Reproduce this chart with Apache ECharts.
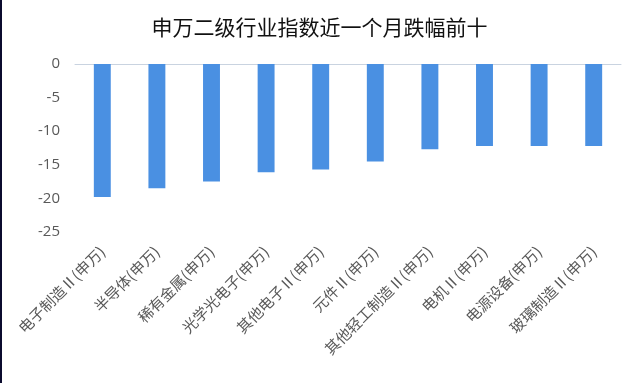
<!DOCTYPE html>
<html>
<head>
<meta charset="utf-8">
<script src="https://cdn.jsdelivr.net/npm/echarts@6/dist/echarts.min.js"></script>
<style>
html,body{margin:0;padding:0;background:#fff;}
#main{width:639px;height:383px;}
</style>
</head>
<body>
<div id="main"></div>
<script>
const titleText = '申万二级行业指数近一个月跌幅前十';
const categories = ['电子制造Ⅱ(申万)','半导体(申万)','稀有金属(申万)','光学光电子(申万)','其他电子Ⅱ(申万)','元件Ⅱ(申万)','其他轻工制造Ⅱ(申万)','电机Ⅱ(申万)','电源设备(申万)','玻璃制造Ⅱ(申万)'];
const values = [-19.8, -18.5, -17.5, -16.1, -15.7, -14.5, -12.7, -12.2, -12.2, -12.2];
const yTicks = [0, -5, -10, -15, -20, -25];

const chart = echarts.init(document.getElementById('main'));
chart.setOption({
  backgroundColor: '#ffffff',
  animation: false,
  title: {
    text: titleText,
    left: 'center',
    top: 12,
    textStyle: {fontFamily: 'Noto Sans CJK SC', fontSize: 21, fontWeight: 'normal', color: '#111'}
  },
  graphic: [{type: 'rect', left: 0, top: 0, shape: {width: 2, height: 383}, style: {fill: '#0b0b2e'}}],
  grid: {left: 75, right: 18, top: 64, bottom: 151},
  xAxis: [{
    type: 'category',
    data: categories,
    position: 'bottom',
    axisLine: {show: false, onZero: false},
    axisTick: {show: false},
    axisLabel: {rotate: 45, interval: 0, margin: 17, color: '#595959', fontSize: 15, fontFamily: 'Noto Sans CJK SC'}
  }, {
    type: 'category',
    data: categories,
    position: 'top',
    axisLine: {show: true, lineStyle: {color: '#c9d3e0', width: 1}},
    axisTick: {show: false},
    axisLabel: {show: false}
  }],
  yAxis: {
    type: 'value',
    min: Math.min(...yTicks),
    max: Math.max(...yTicks),
    interval: 5,
    axisLine: {show: false},
    axisTick: {show: false},
    splitLine: {show: false},
    axisLabel: {margin: 15, color: '#595959', fontSize: 15, fontFamily: 'Open Sans'}
  },
  series: [{
    type: 'bar',
    data: values,
    xAxisIndex: 0,
    barWidth: '31%',
    itemStyle: {color: '#4a90e2'}
  }]
});
</script>
</body>
</html>
